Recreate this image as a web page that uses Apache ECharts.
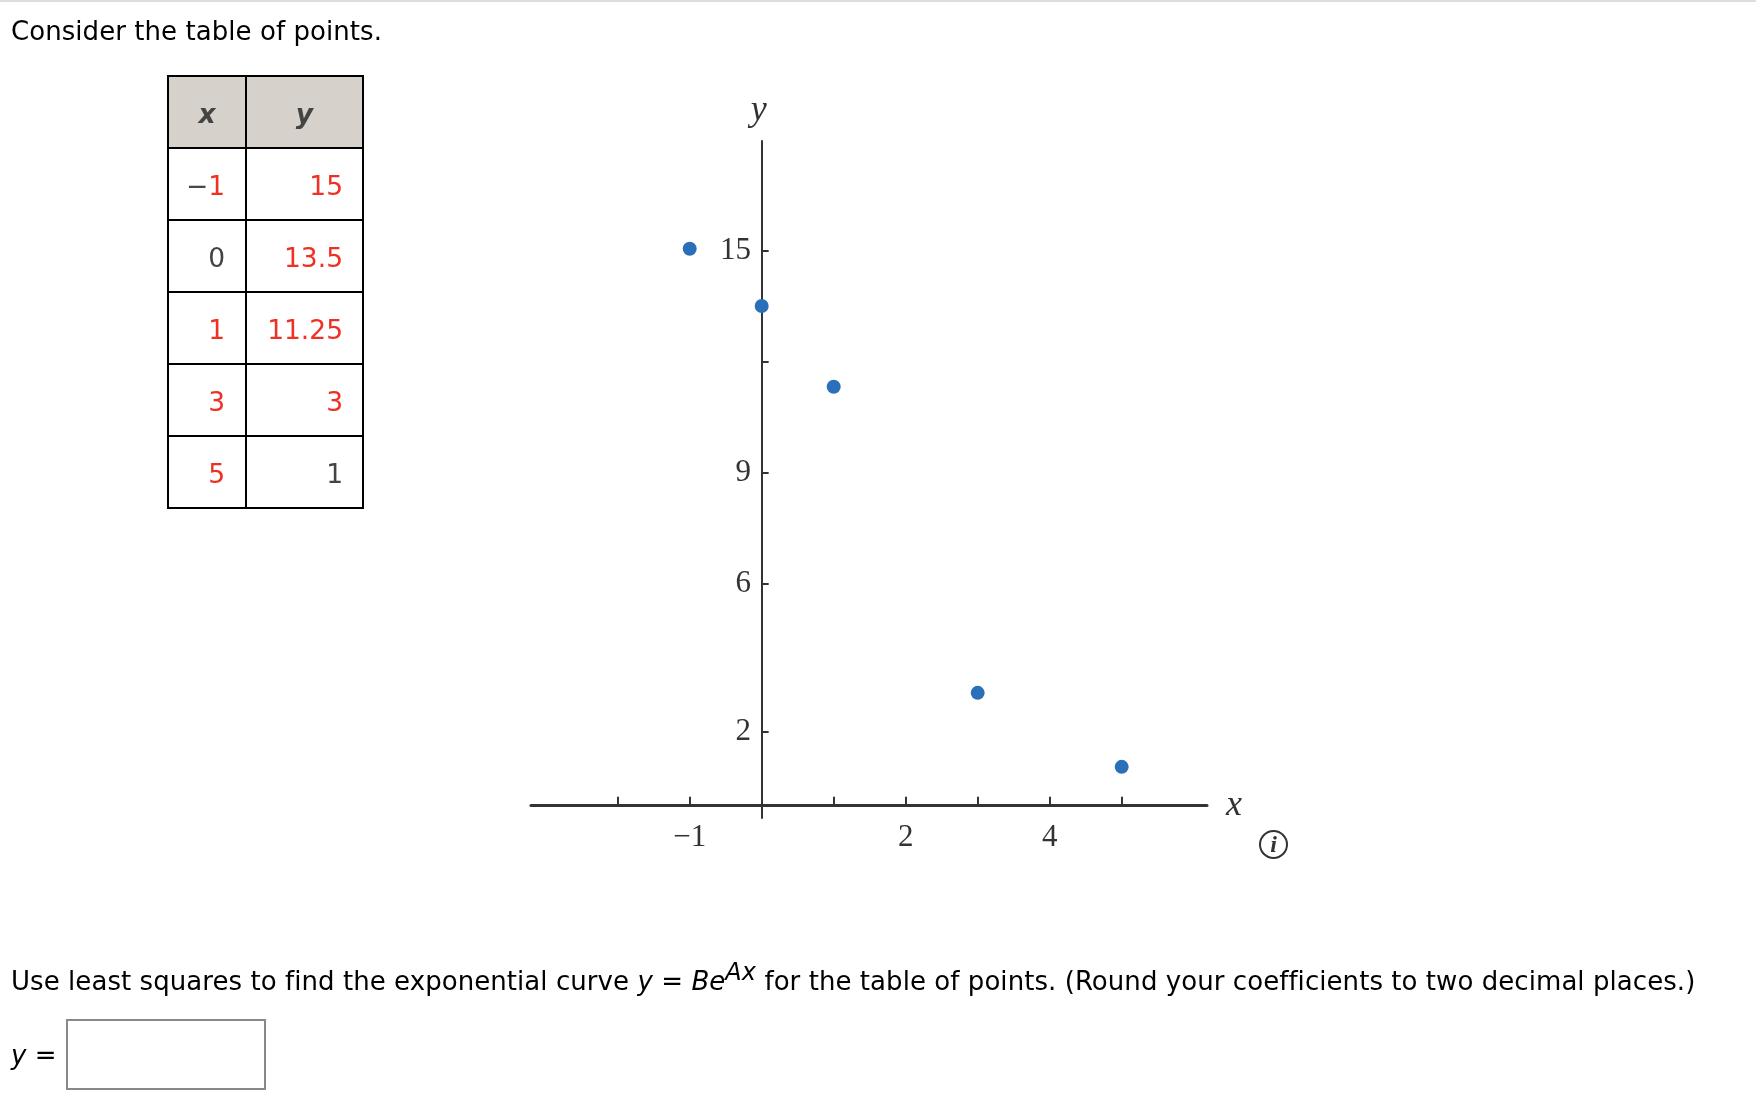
<!DOCTYPE html>
<html>
<head>
<meta charset="utf-8">
<script src="https://cdn.jsdelivr.net/npm/echarts@6/dist/echarts.min.js"></script>
<style>
  html, body { margin: 0; padding: 0; background: #fff; }
  body { width: 1756px; height: 1116px; position: relative; overflow: hidden; font-family: "DejaVu Sans", sans-serif; color: #000; }
  #chart { position: absolute; left: 0; top: 0; width: 1756px; height: 1116px; }
  .topRule { position: absolute; left: 0; top: 0; width: 1756px; height: 2px; background: #ddd; }
  .line { position: absolute; left: 11px; font-size: 26px; line-height: 32px; white-space: nowrap; letter-spacing: 0.06px; }
  .line i { font-style: italic; }
  .line sup { font-size: 24px; font-style: italic; line-height: 0; vertical-align: 10px; }
  table { position: absolute; left: 167px; top: 75px; border-collapse: collapse; font-size: 26.5px; }
  td, th { border: 2px solid #000; height: 72px; padding: 3px 0 0 0; box-sizing: border-box; }
  td { text-align: right; color: #ee3124; }
  td:first-child { width: 78px; padding-right: 20px; }
  td:last-child { width: 117px; padding-right: 19px; }
  td .dark { color: #444; }
  tr.head { background: #d6d2cb; }
  th { color: #444; font-style: italic; font-weight: bold; }
  .answer { position: absolute; left: 66px; top: 1019px; width: 200px; height: 71px; border: 2px solid #888; box-sizing: border-box; }
  .info { position: absolute; left: 1259px; top: 830px; width: 29px; height: 29px; border: 2px solid #333; border-radius: 50%; box-sizing: border-box;
    font: italic bold 24px/25px "Liberation Serif", serif; text-align: center; color: #333; }
</style>
</head>
<body>
<div class="topRule"></div>
<div id="chart"></div>
<div class="line" style="top:15px">Consider the table of points.</div>
<table id="pointsTable"></table>
<div class="info">i</div>
<div class="line" style="top:965px">Use least squares to find the exponential curve <i>y</i> = <i>Be</i><sup>Ax</sup> for the table of points. (Round your coefficients to two decimal places.)</div>
<div class="line" style="top:1039px"><i>y</i> =</div>
<div class="answer"></div>
<script>
// table of points
const tableX = ['−1', '0', '1', '3', '5']
const tableY = ['15', '13.5', '11.25', '3', '1']

// points as they sit on the plot
const pointX = [-1, 0, 1, 3, 5]
const pointY = [15.05, 13.5, 11.32, 3.05, 1.05]

// axis ticks, the labels skip some of them
const xTicks = [-2, -1, 1, 2, 3, 4, 5]
const xLabels = [-1, 2, 4]
const yTicks = [2, 6, 9, 12, 15]
const yLabels = [2, 6, 9, 15]

// axis extent
const xMin = -3.204
const xMax = 6.185
const yMin = -0.332
const yMax = 17.96

const darkCells = ['0', '−']

let rows = '<tr class="head"><th>x</th><th>y</th></tr>'
tableX.forEach((x, i) => {
  let xCell = x
  if (x[0] === '−') xCell = '<span class="dark">−</span>' + x.slice(1)
  else if (darkCells.includes(x)) xCell = '<span class="dark">' + x + '</span>'
  // the last y value is printed in the plain colour
  let yCell = i === tableY.length - 1 ? '<span class="dark">' + tableY[i] + '</span>' : tableY[i]
  rows += '<tr><td>' + xCell + '</td><td>' + yCell + '</td></tr>'
})
document.getElementById('pointsTable').innerHTML = rows

const serif = '"Liberation Serif", serif'
let myChart = echarts.init(document.getElementById('chart'))
myChart.setOption({
  animation: false,
  grid: { left: 531, top: 141, width: 676, height: 677 },
  xAxis: {
    type: 'value',
    min: xMin,
    max: xMax,
    name: 'x',
    nameLocation: 'end',
    nameGap: 19,
    nameTextStyle: { fontFamily: serif, fontStyle: 'italic', fontSize: 36, color: '#333', padding: [10, 0, 0, 0] },
    splitLine: { show: false },
    axisLine: { onZero: true, lineStyle: { color: '#333', width: 3 } },
    axisTick: { inside: true, length: 9, customValues: xTicks, lineStyle: { color: '#333', width: 2 } },
    axisLabel: {
      customValues: xLabels,
      // labels hang off the grid edge, not the zero line
      margin: 4,
      fontFamily: serif,
      fontSize: 31,
      color: '#333',
      formatter: v => String(v).replace('-', '−')
    }
  },
  yAxis: {
    type: 'value',
    min: yMin,
    max: yMax,
    name: 'y',
    nameLocation: 'end',
    nameGap: 12,
    nameTextStyle: { fontFamily: serif, fontStyle: 'italic', fontSize: 36, color: '#333', padding: [0, 6, 0, 0] },
    splitLine: { show: false },
    axisLine: { onZero: true, lineStyle: { color: '#333', width: 2 } },
    axisTick: { inside: true, length: 7, customValues: yTicks, lineStyle: { color: '#333', width: 2 } },
    axisLabel: { customValues: yLabels, margin: -220, padding: [4, 0, 0, 0], fontFamily: serif, fontSize: 31, color: '#333' }
  },
  series: [
    {
      type: 'scatter',
      symbolSize: 14,
      itemStyle: { color: '#2a70b8', opacity: 1 },
      data: pointX.map((x, i) => [x, pointY[i]])
    }
  ]
})
</script>
</body>
</html>
